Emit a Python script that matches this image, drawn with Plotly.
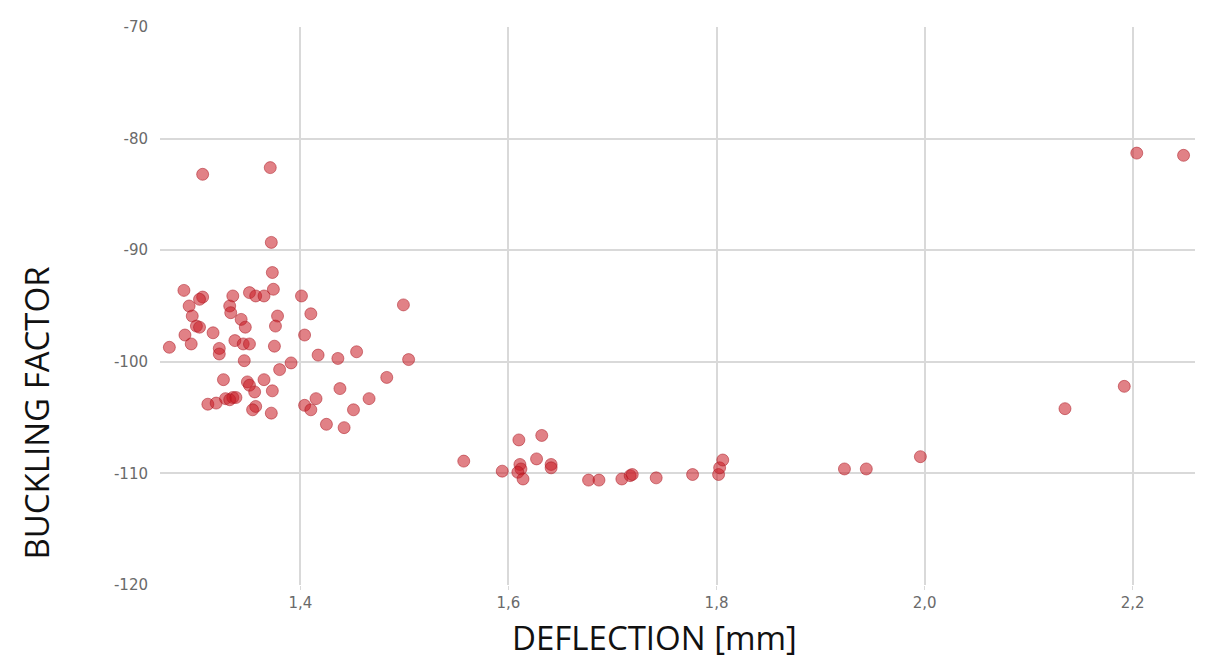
import plotly.graph_objects as go

deflection = [
    1.306, 1.371, 1.372, 1.373, 1.288, 1.306, 1.303, 1.335, 1.351, 1.357, 1.365, 1.374,
    1.401, 1.499, 1.293, 1.332, 1.333, 1.410, 1.378, 1.296, 1.343, 1.376, 1.347, 1.300,
    1.303, 1.316, 1.289, 1.404, 1.295, 1.337, 1.345, 1.351, 1.274, 1.322, 1.322, 1.375,
    1.417, 1.436, 1.454, 1.504, 1.346, 1.391, 1.380, 1.483, 1.326, 1.349, 1.351, 1.365,
    1.356, 1.373, 1.438, 1.466, 1.311, 1.319, 1.328, 1.335, 1.332, 1.338, 1.415, 1.404,
    1.410, 1.357, 1.354, 1.372, 1.451, 1.425, 1.442,
    1.557, 1.594, 1.610, 1.632, 1.611, 1.612, 1.609, 1.614, 1.627, 1.641, 1.641,
    1.677, 1.687, 1.709, 1.717, 1.719, 1.742, 1.777, 1.802, 1.803, 1.806,
    1.923, 1.944, 1.996, 2.135, 2.192, 2.204, 2.249,
]
buckling = [
    -83.2, -82.6, -89.3, -92.0, -93.6, -94.2, -94.4, -94.1, -93.8, -94.1, -94.1, -93.5,
    -94.1, -94.9, -95.0, -95.0, -95.6, -95.7, -95.9, -95.9, -96.2, -96.8, -96.9, -96.8,
    -96.9, -97.4, -97.6, -97.6, -98.4, -98.1, -98.4, -98.4, -98.7, -98.8, -99.3, -98.6,
    -99.4, -99.7, -99.1, -99.8, -99.9, -100.1, -100.7, -101.4, -101.6, -101.8, -102.1, -101.6,
    -102.7, -102.6, -102.4, -103.3, -103.8, -103.7, -103.3, -103.2, -103.4, -103.2, -103.3, -103.9,
    -104.3, -104.0, -104.3, -104.6, -104.3, -105.6, -105.9,
    -108.9, -109.8, -107.0, -106.6, -109.2, -109.6, -109.9, -110.5, -108.7, -109.2, -109.5,
    -110.6, -110.6, -110.5, -110.2, -110.1, -110.4, -110.1, -110.1, -109.5, -108.8,
    -109.6, -109.6, -108.5, -104.2, -102.2, -81.3, -81.5,
]

x_ticks = [1.4, 1.6, 1.8, 2.0, 2.2]
y_ticks = [-70, -80, -90, -100, -110, -120]
y_tick_labels = ["-70", "-80", "-90", "-100", "-110", "-120"]
x_title = "DEFLECTION [mm]"
y_title = "BUCKLING FACTOR"

# page body has an 8px margin; figure sized to fit the window
OFF = 8
W, H = 1205 - OFF, 661 - OFF
ML, MR, MT, MB = 160 - OFF, 10, 22 - OFF, 76

fig = go.Figure(go.Scatter(
    x=deflection, y=buckling, mode="markers",
    marker=dict(size=12, color="rgba(200,25,35,0.55)",
                line=dict(width=1, color="rgba(170,20,30,0.5)")),
    hoverinfo="x+y",
))

grid = "#d9d9d9"
tickfont = dict(family="DejaVu Sans", size=15, color="#6a6a6a")
fig.update_layout(
    width=W, height=H,
    margin=dict(l=ML, r=MR, t=MT, b=MB),
    paper_bgcolor="white", plot_bgcolor="white",
    separators=",.",
    showlegend=False,
    xaxis=dict(range=[1.265, 2.26], tickvals=x_ticks, tickformat=".1f",
               showgrid=True, gridcolor=grid, gridwidth=1.5, zeroline=False,
               showline=False, ticks="outside", ticklen=4, tickcolor=grid,
               tickfont=tickfont),
    yaxis=dict(range=[-120, -70], tickvals=y_ticks, ticktext=y_tick_labels,
               showgrid=True, gridcolor=grid, gridwidth=1.5, zeroline=False,
               showline=False, ticks="outside", ticklen=8, tickcolor="rgba(0,0,0,0)",
               tickfont=tickfont),
)

pw = W - ML - MR
ph = H - MT - MB


def to_paper(px, py):
    return (px - OFF - ML) / pw, (H - MB - (py - OFF)) / ph


ax, ay = to_paper(654, 638)
bx, by = to_paper(37, 412)
fig.add_annotation(text=x_title, x=ax, y=ay, xref="paper", yref="paper",
                   showarrow=False, xanchor="center", yanchor="middle",
                   font=dict(family="Open Sans", size=33, color="#111111"))
fig.add_annotation(text=y_title, x=bx, y=by, xref="paper", yref="paper",
                   showarrow=False, xanchor="center", yanchor="middle", textangle=-90,
                   font=dict(family="Open Sans", size=33, color="#111111"))

fig.write_html("out.html")
